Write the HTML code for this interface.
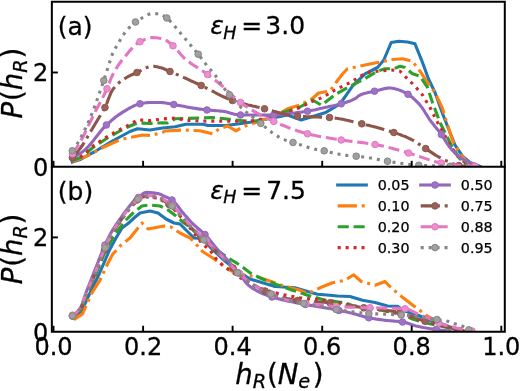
<!DOCTYPE html>
<html><head><meta charset="utf-8"><title>P(hR) vs hR(Ne)</title>
<style>html,body{margin:0;padding:0;background:#fff}body{width:520px;height:391px;overflow:hidden}</style></head>
<body>
<svg width="520" height="391" viewBox="0 0 520 391" style="display:block">
<defs><clipPath id="c1"><rect x="51.85" y="1.75" width="452.95" height="165.05"/></clipPath><clipPath id="c2"><rect x="51.85" y="166.8" width="452.95" height="164.95"/></clipPath></defs>
<rect width="520" height="391" fill="#fff"/>
<g clip-path="url(#c1)"><path d="M72.3 162.0 L80.8 159.2 L96.2 150.8 L111.5 141.5 L130.0 131.5 L137.5 128.8 L150.0 130.0 L162.5 128.0 L175.0 126.8 L186.0 124.2 L203.0 124.2 L208.0 125.5 L226.0 125.5 L241.5 123.5 L250.0 122.3 L275.0 117.5 L287.5 115.0 L301.2 120.0 L325.0 112.8 L340.0 104.0 L352.5 86.2 L365.0 73.8 L377.5 67.5 L383.8 60.0 L391.2 42.5 L398.8 41.2 L407.5 42.0 L415.0 43.8 L422.5 62.5 L428.5 79.0 L435.0 92.5 L442.5 113.5 L450.0 132.5 L455.0 145.0 L462.5 156.2 L470.0 162.5 L480.0 166.3" stroke="#1f77b4" stroke-width="3.1" fill="none" stroke-linejoin="round" stroke-linecap="square"/>
<path d="M72.5 161.5 L88.5 155.4 L103.8 147.0 L117.7 140.8 L125.4 138.5 L132.5 137.0 L142.5 135.0 L150.0 135.5 L162.5 132.5 L165.0 131.0 L182.5 130.0 L200.0 130.8 L212.5 133.8 L218.8 129.2 L227.5 126.0 L236.0 130.8 L242.5 127.0 L260.0 121.0 L275.0 116.0 L287.5 108.8 L300.0 105.0 L312.5 98.5 L318.5 93.0 L330.0 91.0 L336.0 82.5 L342.5 74.0 L347.5 68.8 L365.0 65.0 L377.5 62.5 L392.5 59.5 L402.5 58.8 L412.5 61.2 L420.0 71.2 L427.5 82.5 L435.0 92.5 L442.5 108.5 L447.5 125.0 L452.5 140.0 L460.0 153.8 L467.5 162.0 L480.0 166.3" stroke="#ff7f0e" stroke-width="3.1" fill="none" stroke-linejoin="round" stroke-dasharray="19.20 4.80 3.00 4.80"/>
<path d="M72.5 160.5 L80.8 157.5 L93.0 147.5 L107.0 138.2 L120.8 130.5 L130.0 126.0 L137.5 123.0 L150.0 123.5 L162.5 122.7 L167.5 123.0 L175.0 118.8 L212.5 117.5 L225.0 118.8 L245.0 121.0 L257.5 121.0 L275.0 115.0 L300.0 107.0 L312.5 100.0 L321.5 105.2 L335.4 94.4 L350.0 86.2 L362.5 80.0 L377.5 71.2 L385.0 68.8 L393.8 68.8 L400.0 66.2 L405.0 67.5 L412.5 73.8 L420.0 76.2 L427.5 87.5 L432.5 102.5 L440.0 122.5 L446.2 135.0 L452.5 147.5 L460.0 158.8 L467.5 165.6" stroke="#2ca02c" stroke-width="3.1" fill="none" stroke-linejoin="round" stroke-dasharray="11.10 4.80"/>
<path d="M72.5 160.0 L80.8 156.5 L93.0 146.0 L107.0 136.7 L120.8 129.0 L130.0 124.5 L137.5 119.8 L150.0 120.6 L162.5 119.0 L175.0 118.0 L185.0 120.3 L200.0 121.0 L225.0 121.3 L250.0 121.3 L257.5 120.0 L275.0 116.2 L300.0 107.5 L312.5 101.2 L322.5 97.5 L335.0 90.0 L350.0 82.5 L362.5 75.0 L370.0 72.0 L377.5 71.2 L392.5 70.0 L400.0 71.2 L407.5 78.8 L415.0 86.2 L422.5 95.0 L430.0 107.5 L436.2 120.0 L442.5 131.2 L450.0 145.0 L457.5 156.2 L465.0 162.5 L475.0 166.3" stroke="#d62728" stroke-width="3.1" fill="none" stroke-linejoin="round" stroke-dasharray="3.00 4.95"/>
<path d="M72.5 157.7 L74.0 157.0 L75.5 156.2 L77.0 155.4 L78.5 154.5 L80.0 153.5 L81.5 152.5 L83.0 151.4 L84.5 150.2 L86.0 148.9 L87.5 147.4 L89.0 145.8 L90.5 144.1 L92.0 142.2 L93.5 140.4 L95.0 138.4 L96.5 136.5 L98.0 134.6 L99.5 132.7 L101.0 130.8 L102.5 129.1 L104.0 127.4 L105.5 125.9 L107.0 124.5 L108.5 123.1 L110.0 121.8 L111.5 120.5 L113.0 119.2 L114.5 118.0 L116.0 116.8 L117.5 115.7 L119.0 114.6 L120.5 113.6 L122.0 112.6 L123.5 111.7 L125.0 110.8 L126.5 109.9 L128.0 109.0 L129.5 108.1 L131.0 107.3 L132.5 106.5 L134.0 105.8 L135.5 105.1 L137.0 104.6 L138.5 104.1 L140.0 103.8 L141.5 103.5 L143.0 103.2 L144.5 103.0 L146.0 102.8 L147.5 102.6 L149.0 102.5 L150.5 102.5 L152.0 102.5 L153.5 102.5 L155.0 102.5 L156.5 102.5 L158.0 102.5 L159.5 102.5 L161.0 102.5 L162.5 102.6 L164.0 102.8 L165.5 103.0 L167.0 103.2 L168.5 103.5 L170.0 103.8 L171.5 104.1 L173.0 104.4 L174.5 104.6 L176.0 104.9 L177.5 105.2 L179.0 105.4 L180.5 105.7 L182.0 106.0 L183.5 106.3 L185.0 106.6 L186.5 106.9 L188.0 107.2 L189.5 107.4 L191.0 107.7 L192.5 107.9 L194.0 108.2 L195.5 108.4 L197.0 108.6 L198.5 108.9 L200.0 109.1 L201.5 109.3 L203.0 109.5 L204.5 109.7 L206.0 109.9 L207.5 110.1 L209.0 110.2 L210.5 110.3 L212.0 110.4 L213.5 110.5 L215.0 110.6 L216.5 110.7 L218.0 110.8 L219.5 111.0 L221.0 111.1 L222.5 111.2 L224.0 111.5 L225.5 111.8 L227.0 112.1 L228.5 112.5 L230.0 113.0 L231.5 113.4 L233.0 113.8 L234.5 114.2 L236.0 114.5 L237.5 114.8 L239.0 114.9 L240.5 115.0 L242.0 115.0 L243.5 115.0 L245.0 115.0 L246.5 115.0 L248.0 115.0 L249.5 115.0 L251.0 115.0 L252.5 115.0 L254.0 115.0 L255.5 115.0 L257.0 115.0 L258.5 115.0 L260.0 115.0 L261.5 115.0 L263.0 115.0 L264.5 115.1 L266.0 115.1 L267.5 115.1 L269.0 115.1 L270.5 115.1 L272.0 115.1 L273.5 115.1 L275.0 115.1 L276.5 115.0 L278.0 114.9 L279.5 114.7 L281.0 114.6 L282.5 114.4 L284.0 114.2 L285.5 114.0 L287.0 113.8 L288.5 113.6 L290.0 113.5 L291.5 113.3 L293.0 113.1 L294.5 113.0 L296.0 112.8 L297.5 112.6 L299.0 112.4 L300.5 112.3 L302.0 112.1 L303.5 111.8 L305.0 111.6 L306.5 111.4 L308.0 111.2 L309.5 110.9 L311.0 110.6 L312.5 110.3 L314.0 110.0 L315.5 109.7 L317.0 109.3 L318.5 109.0 L320.0 108.6 L321.5 108.3 L323.0 108.0 L324.5 107.6 L326.0 107.3 L327.5 107.0 L329.0 106.6 L330.5 106.3 L332.0 106.0 L333.5 105.7 L335.0 105.3 L336.5 105.0 L338.0 104.6 L339.5 104.2 L341.0 103.8 L342.5 103.4 L344.0 103.0 L345.5 102.5 L347.0 102.0 L348.5 101.5 L350.0 101.0 L351.5 100.4 L353.0 99.7 L354.5 99.0 L356.0 98.1 L357.5 96.8 L359.0 95.6 L360.5 94.8 L362.0 94.2 L363.5 93.8 L365.0 93.3 L366.5 93.0 L368.0 92.6 L369.5 92.3 L371.0 92.0 L372.5 91.7 L374.0 91.4 L375.5 91.0 L377.0 90.6 L378.5 90.2 L380.0 89.8 L381.5 89.4 L383.0 89.0 L384.5 88.6 L386.0 88.4 L387.5 88.1 L389.0 88.0 L390.5 88.0 L392.0 88.2 L393.5 88.4 L395.0 88.8 L396.5 89.2 L398.0 89.6 L399.5 90.1 L401.0 90.7 L402.5 91.4 L404.0 92.1 L405.5 92.9 L407.0 93.7 L408.5 94.6 L410.0 95.6 L411.5 96.7 L413.0 98.0 L414.5 99.3 L416.0 100.8 L417.5 102.3 L419.0 103.9 L420.5 105.6 L422.0 107.6 L423.5 109.8 L425.0 112.2 L426.5 114.6 L428.0 117.0 L429.5 119.3 L431.0 121.4 L432.5 123.3 L434.0 125.2 L435.5 127.1 L437.0 128.9 L438.5 130.8 L440.0 132.7 L441.5 134.7 L443.0 137.0 L444.5 139.3 L446.0 141.7 L447.5 144.1 L449.0 146.2 L450.5 148.1 L452.0 149.9 L453.5 151.5 L455.0 153.1 L456.5 154.6 L458.0 155.9 L459.5 157.1 L461.0 158.2 L462.5 159.1 L464.0 159.9 L465.5 160.6 L467.0 161.4 L468.5 162.1 L470.0 163.0 L471.5 163.9 L473.0 164.9 L474.5 166.0 L475.0 166.3" stroke="#9467bd" stroke-width="3.1" fill="none" stroke-linejoin="round" stroke-linecap="square"/>
<circle cx="72.5" cy="157.7" r="3.3" fill="#9d74c4" stroke="#9467bd" stroke-width="1"/>
<circle cx="106.4" cy="125.0" r="3.3" fill="#9d74c4" stroke="#9467bd" stroke-width="1"/>
<circle cx="140.0" cy="103.8" r="3.3" fill="#9d74c4" stroke="#9467bd" stroke-width="1"/>
<circle cx="173.8" cy="104.5" r="3.3" fill="#9d74c4" stroke="#9467bd" stroke-width="1"/>
<circle cx="207.0" cy="110.0" r="3.3" fill="#9d74c4" stroke="#9467bd" stroke-width="1"/>
<circle cx="240.5" cy="115.0" r="3.3" fill="#9d74c4" stroke="#9467bd" stroke-width="1"/>
<circle cx="273.8" cy="115.1" r="3.3" fill="#9d74c4" stroke="#9467bd" stroke-width="1"/>
<circle cx="307.5" cy="111.2" r="3.3" fill="#9d74c4" stroke="#9467bd" stroke-width="1"/>
<circle cx="341.2" cy="103.8" r="3.3" fill="#9d74c4" stroke="#9467bd" stroke-width="1"/>
<circle cx="374.5" cy="91.2" r="3.3" fill="#9d74c4" stroke="#9467bd" stroke-width="1"/>
<circle cx="408.0" cy="94.3" r="3.3" fill="#9d74c4" stroke="#9467bd" stroke-width="1"/>
<circle cx="441.4" cy="134.6" r="3.3" fill="#9d74c4" stroke="#9467bd" stroke-width="1"/>
<circle cx="475.0" cy="166.3" r="3.3" fill="#9d74c4" stroke="#9467bd" stroke-width="1"/>
<path d="M72.5 157.7 L74.0 156.1 L75.5 154.4 L77.0 152.5 L78.5 150.6 L80.0 148.6 L81.5 146.5 L83.0 144.4 L84.5 142.0 L86.0 139.5 L87.5 136.9 L89.0 134.3 L90.5 131.7 L92.0 129.2 L93.5 126.7 L95.0 124.2 L96.5 121.7 L98.0 119.3 L99.5 116.8 L101.0 114.3 L102.5 111.8 L104.0 109.3 L105.5 106.5 L107.0 102.9 L108.5 98.9 L110.0 95.0 L111.5 91.7 L113.0 89.3 L114.5 87.4 L116.0 85.6 L117.5 84.1 L119.0 82.7 L120.5 81.5 L122.0 80.4 L123.5 79.3 L125.0 78.4 L126.5 77.5 L128.0 76.7 L129.5 75.9 L131.0 75.2 L132.5 74.5 L134.0 73.8 L135.5 73.2 L137.0 72.5 L138.5 71.8 L140.0 71.0 L141.5 70.2 L143.0 69.4 L144.5 68.6 L146.0 67.9 L147.5 67.3 L149.0 66.8 L150.5 66.4 L152.0 66.3 L153.5 66.3 L155.0 66.4 L156.5 66.7 L158.0 67.0 L159.5 67.4 L161.0 67.8 L162.5 68.3 L164.0 68.8 L165.5 69.5 L167.0 70.2 L168.5 70.8 L170.0 71.5 L171.5 72.1 L173.0 72.8 L174.5 73.4 L176.0 74.1 L177.5 74.7 L179.0 75.4 L180.5 76.0 L182.0 76.7 L183.5 77.4 L185.0 78.0 L186.5 78.7 L188.0 79.4 L189.5 80.1 L191.0 80.8 L192.5 81.5 L194.0 82.1 L195.5 82.8 L197.0 83.5 L198.5 84.2 L200.0 84.9 L201.5 85.6 L203.0 86.3 L204.5 87.1 L206.0 87.8 L207.5 88.6 L209.0 89.4 L210.5 90.1 L212.0 90.9 L213.5 91.7 L215.0 92.5 L216.5 93.3 L218.0 94.1 L219.5 94.8 L221.0 95.6 L222.5 96.3 L224.0 97.0 L225.5 97.7 L227.0 98.4 L228.5 99.0 L230.0 99.6 L231.5 100.2 L233.0 100.7 L234.5 101.2 L236.0 101.6 L237.5 102.1 L239.0 102.5 L240.5 102.9 L242.0 103.3 L243.5 103.7 L245.0 104.1 L246.5 104.5 L248.0 104.9 L249.5 105.2 L251.0 105.6 L252.5 106.0 L254.0 106.3 L255.5 106.6 L257.0 107.0 L258.5 107.3 L260.0 107.7 L261.5 108.0 L263.0 108.4 L264.5 108.8 L266.0 109.1 L267.5 109.5 L269.0 109.9 L270.5 110.3 L272.0 110.7 L273.5 111.2 L275.0 111.6 L276.5 112.0 L278.0 112.4 L279.5 112.8 L281.0 113.2 L282.5 113.6 L284.0 114.0 L285.5 114.3 L287.0 114.7 L288.5 115.0 L290.0 115.3 L291.5 115.5 L293.0 115.8 L294.5 116.0 L296.0 116.1 L297.5 116.2 L299.0 116.3 L300.5 116.4 L302.0 116.5 L303.5 116.6 L305.0 116.6 L306.5 116.7 L308.0 116.7 L309.5 116.8 L311.0 116.8 L312.5 116.9 L314.0 116.9 L315.5 116.9 L317.0 117.0 L318.5 117.0 L320.0 117.1 L321.5 117.1 L323.0 117.2 L324.5 117.2 L326.0 117.3 L327.5 117.4 L329.0 117.5 L330.5 117.6 L332.0 117.7 L333.5 117.9 L335.0 118.1 L336.5 118.3 L338.0 118.5 L339.5 118.8 L341.0 119.0 L342.5 119.3 L344.0 119.6 L345.5 119.9 L347.0 120.3 L348.5 120.6 L350.0 121.0 L351.5 121.3 L353.0 121.7 L354.5 122.0 L356.0 122.4 L357.5 122.8 L359.0 123.1 L360.5 123.5 L362.0 123.8 L363.5 124.2 L365.0 124.5 L366.5 124.9 L368.0 125.2 L369.5 125.6 L371.0 126.0 L372.5 126.3 L374.0 126.7 L375.5 127.1 L377.0 127.5 L378.5 127.9 L380.0 128.3 L381.5 128.8 L383.0 129.2 L384.5 129.6 L386.0 130.1 L387.5 130.5 L389.0 131.0 L390.5 131.5 L392.0 131.9 L393.5 132.4 L395.0 132.9 L396.5 133.4 L398.0 133.9 L399.5 134.4 L401.0 135.0 L402.5 135.6 L404.0 136.1 L405.5 136.7 L407.0 137.4 L408.5 138.1 L410.0 138.8 L411.5 139.5 L413.0 140.3 L414.5 141.2 L416.0 142.2 L417.5 143.1 L419.0 144.1 L420.5 145.1 L422.0 146.2 L423.5 147.2 L425.0 148.1 L426.5 149.1 L428.0 150.1 L429.5 151.1 L431.0 152.1 L432.5 153.1 L434.0 154.1 L435.5 155.1 L437.0 156.0 L438.5 156.8 L440.0 157.6 L441.5 158.4 L443.0 159.2 L444.5 159.9 L446.0 160.6 L447.5 161.2 L449.0 161.9 L450.5 162.6 L452.0 163.4 L453.5 164.0 L455.0 164.6 L456.5 165.1 L458.0 165.5 L459.5 165.7 L461.0 165.9 L462.5 166.0 L464.0 166.1 L465.5 166.3 L467.0 166.4 L468.5 166.4 L470.0 166.5 L471.5 166.5 L472.0 166.5" stroke="#8c564b" stroke-width="3.1" fill="none" stroke-linejoin="round" stroke-dasharray="19.20 4.80 3.00 4.80"/>
<circle cx="72.5" cy="157.7" r="3.3" fill="#9a6256" stroke="#8c564b" stroke-width="1"/>
<circle cx="105.0" cy="107.5" r="3.3" fill="#9a6256" stroke="#8c564b" stroke-width="1"/>
<circle cx="137.0" cy="72.5" r="3.3" fill="#9a6256" stroke="#8c564b" stroke-width="1"/>
<circle cx="170.0" cy="71.5" r="3.3" fill="#9a6256" stroke="#8c564b" stroke-width="1"/>
<circle cx="201.2" cy="85.5" r="3.3" fill="#9a6256" stroke="#8c564b" stroke-width="1"/>
<circle cx="232.5" cy="100.5" r="3.3" fill="#9a6256" stroke="#8c564b" stroke-width="1"/>
<circle cx="264.5" cy="108.8" r="3.3" fill="#9a6256" stroke="#8c564b" stroke-width="1"/>
<circle cx="297.5" cy="116.2" r="3.3" fill="#9a6256" stroke="#8c564b" stroke-width="1"/>
<circle cx="329.5" cy="117.5" r="3.3" fill="#9a6256" stroke="#8c564b" stroke-width="1"/>
<circle cx="361.8" cy="123.8" r="3.3" fill="#9a6256" stroke="#8c564b" stroke-width="1"/>
<circle cx="393.8" cy="132.5" r="3.3" fill="#9a6256" stroke="#8c564b" stroke-width="1"/>
<circle cx="425.7" cy="148.6" r="3.3" fill="#9a6256" stroke="#8c564b" stroke-width="1"/>
<circle cx="458.8" cy="165.6" r="3.3" fill="#9a6256" stroke="#8c564b" stroke-width="1"/>
<path d="M72.5 153.8 L74.0 151.7 L75.5 149.5 L77.0 147.2 L78.5 144.7 L80.0 142.2 L81.5 139.5 L83.0 136.7 L84.5 133.7 L86.0 130.6 L87.5 127.4 L89.0 124.4 L90.5 121.3 L92.0 118.3 L93.5 115.2 L95.0 112.2 L96.5 109.3 L98.0 106.5 L99.5 103.7 L101.0 100.9 L102.5 98.0 L104.0 95.1 L105.5 92.0 L107.0 88.8 L108.5 85.0 L110.0 81.0 L111.5 77.2 L113.0 74.1 L114.5 71.3 L116.0 68.8 L117.5 66.5 L119.0 64.2 L120.5 62.2 L122.0 60.2 L123.5 58.3 L125.0 56.5 L126.5 54.7 L128.0 52.9 L129.5 51.1 L131.0 49.4 L132.5 47.8 L134.0 46.2 L135.5 44.8 L137.0 43.6 L138.5 42.5 L140.0 41.7 L141.5 41.0 L143.0 40.3 L144.5 39.6 L146.0 39.0 L147.5 38.5 L149.0 38.0 L150.5 37.8 L152.0 37.6 L153.5 37.6 L155.0 37.7 L156.5 37.8 L158.0 38.0 L159.5 38.2 L161.0 38.5 L162.5 38.8 L164.0 39.2 L165.5 39.9 L167.0 40.9 L168.5 42.0 L170.0 43.2 L171.5 44.5 L173.0 45.8 L174.5 47.1 L176.0 48.7 L177.5 50.4 L179.0 52.2 L180.5 54.0 L182.0 55.7 L183.5 57.3 L185.0 58.8 L186.5 60.0 L188.0 61.2 L189.5 62.3 L191.0 63.4 L192.5 64.5 L194.0 65.5 L195.5 66.4 L197.0 67.4 L198.5 68.4 L200.0 69.3 L201.5 70.3 L203.0 71.3 L204.5 72.3 L206.0 73.3 L207.5 74.4 L209.0 75.5 L210.5 76.7 L212.0 77.8 L213.5 79.0 L215.0 80.1 L216.5 81.3 L218.0 82.5 L219.5 83.8 L221.0 85.0 L222.5 86.2 L224.0 87.5 L225.5 88.9 L227.0 90.3 L228.5 91.8 L230.0 93.2 L231.5 94.7 L233.0 96.1 L234.5 97.5 L236.0 98.9 L237.5 100.2 L239.0 101.4 L240.5 102.5 L242.0 103.6 L243.5 104.6 L245.0 105.6 L246.5 106.6 L248.0 107.6 L249.5 108.5 L251.0 109.5 L252.5 110.4 L254.0 111.3 L255.5 112.1 L257.0 113.0 L258.5 113.8 L260.0 114.7 L261.5 115.5 L263.0 116.2 L264.5 117.0 L266.0 117.8 L267.5 118.5 L269.0 119.2 L270.5 119.9 L272.0 120.6 L273.5 121.3 L275.0 122.0 L276.5 122.6 L278.0 123.3 L279.5 123.9 L281.0 124.6 L282.5 125.2 L284.0 125.8 L285.5 126.4 L287.0 127.0 L288.5 127.6 L290.0 128.2 L291.5 128.7 L293.0 129.3 L294.5 129.8 L296.0 130.3 L297.5 130.9 L299.0 131.3 L300.5 131.8 L302.0 132.3 L303.5 132.7 L305.0 133.1 L306.5 133.5 L308.0 133.9 L309.5 134.2 L311.0 134.6 L312.5 134.9 L314.0 135.2 L315.5 135.6 L317.0 135.9 L318.5 136.2 L320.0 136.5 L321.5 136.7 L323.0 137.0 L324.5 137.3 L326.0 137.5 L327.5 137.8 L329.0 138.1 L330.5 138.3 L332.0 138.5 L333.5 138.8 L335.0 139.0 L336.5 139.3 L338.0 139.5 L339.5 139.7 L341.0 140.0 L342.5 140.2 L344.0 140.4 L345.5 140.6 L347.0 140.8 L348.5 141.0 L350.0 141.2 L351.5 141.4 L353.0 141.6 L354.5 141.7 L356.0 141.9 L357.5 142.1 L359.0 142.3 L360.5 142.4 L362.0 142.6 L363.5 142.8 L365.0 143.0 L366.5 143.2 L368.0 143.4 L369.5 143.6 L371.0 143.8 L372.5 144.1 L374.0 144.3 L375.5 144.6 L377.0 144.9 L378.5 145.2 L380.0 145.5 L381.5 145.8 L383.0 146.1 L384.5 146.5 L386.0 146.8 L387.5 147.2 L389.0 147.6 L390.5 147.9 L392.0 148.3 L393.5 148.7 L395.0 149.2 L396.5 149.6 L398.0 150.0 L399.5 150.4 L401.0 150.8 L402.5 151.3 L404.0 151.7 L405.5 152.1 L407.0 152.6 L408.5 153.0 L410.0 153.4 L411.5 153.9 L413.0 154.4 L414.5 154.9 L416.0 155.4 L417.5 155.9 L419.0 156.4 L420.5 156.9 L422.0 157.4 L423.5 157.9 L425.0 158.4 L426.5 158.9 L428.0 159.4 L429.5 159.9 L431.0 160.3 L432.5 160.8 L434.0 161.2 L435.5 161.7 L437.0 162.1 L438.5 162.5 L440.0 162.8 L441.5 163.0 L443.0 163.3 L444.5 163.5 L446.0 163.7 L447.5 163.9 L449.0 164.2 L450.5 164.4 L452.0 164.6 L453.5 164.8 L455.0 164.9 L456.5 165.1 L458.0 165.3 L459.5 165.4 L461.0 165.6 L462.5 165.7 L464.0 165.9 L465.5 166.0 L467.0 166.1 L468.5 166.1 L470.0 166.2 L471.5 166.3 L473.0 166.3 L474.5 166.3 L475.0 166.3" stroke="#e377c2" stroke-width="3.1" fill="none" stroke-linejoin="round" stroke-dasharray="11.10 4.80"/>
<circle cx="72.5" cy="153.8" r="3.3" fill="#ea8fcf" stroke="#e377c2" stroke-width="1"/>
<circle cx="107.0" cy="88.8" r="3.3" fill="#ea8fcf" stroke="#e377c2" stroke-width="1"/>
<circle cx="140.0" cy="41.7" r="3.3" fill="#ea8fcf" stroke="#e377c2" stroke-width="1"/>
<circle cx="173.0" cy="45.8" r="3.3" fill="#ea8fcf" stroke="#e377c2" stroke-width="1"/>
<circle cx="207.5" cy="74.4" r="3.3" fill="#ea8fcf" stroke="#e377c2" stroke-width="1"/>
<circle cx="240.5" cy="102.5" r="3.3" fill="#ea8fcf" stroke="#e377c2" stroke-width="1"/>
<circle cx="273.8" cy="121.4" r="3.3" fill="#ea8fcf" stroke="#e377c2" stroke-width="1"/>
<circle cx="307.5" cy="133.8" r="3.3" fill="#ea8fcf" stroke="#e377c2" stroke-width="1"/>
<circle cx="341.2" cy="140.0" r="3.3" fill="#ea8fcf" stroke="#e377c2" stroke-width="1"/>
<circle cx="375.0" cy="144.5" r="3.3" fill="#ea8fcf" stroke="#e377c2" stroke-width="1"/>
<circle cx="408.5" cy="153.0" r="3.3" fill="#ea8fcf" stroke="#e377c2" stroke-width="1"/>
<circle cx="441.2" cy="163.0" r="3.3" fill="#ea8fcf" stroke="#e377c2" stroke-width="1"/>
<circle cx="475.0" cy="166.3" r="3.3" fill="#ea8fcf" stroke="#e377c2" stroke-width="1"/>
<path d="M72.3 150.8 L73.8 148.8 L75.3 146.7 L76.8 144.4 L78.3 142.0 L79.8 139.4 L81.3 136.7 L82.8 133.8 L84.3 130.8 L85.8 127.7 L87.3 124.4 L88.8 121.1 L90.3 117.5 L91.8 113.9 L93.3 110.0 L94.8 106.1 L96.3 102.0 L97.8 97.8 L99.3 93.5 L100.8 89.1 L102.3 84.8 L103.8 80.4 L105.3 75.8 L106.8 71.2 L108.3 66.6 L109.8 61.7 L111.3 56.9 L112.8 53.1 L114.3 50.0 L115.8 47.4 L117.3 44.9 L118.8 42.4 L120.3 39.8 L121.8 37.3 L123.3 34.9 L124.8 32.8 L126.3 30.9 L127.8 29.2 L129.3 27.6 L130.8 26.0 L132.3 24.6 L133.8 23.3 L135.3 22.2 L136.8 21.1 L138.3 20.1 L139.8 19.1 L141.3 18.3 L142.8 17.5 L144.3 16.7 L145.8 15.9 L147.3 15.0 L148.8 14.3 L150.3 13.8 L151.8 13.8 L153.3 13.8 L154.8 13.8 L156.3 13.8 L157.8 13.8 L159.3 13.8 L160.8 14.2 L162.3 14.9 L163.8 15.9 L165.3 17.0 L166.8 18.0 L168.3 19.2 L169.8 20.7 L171.3 22.3 L172.8 24.0 L174.3 25.6 L175.8 27.4 L177.3 29.2 L178.8 31.0 L180.3 32.9 L181.8 34.7 L183.3 36.5 L184.8 38.3 L186.3 40.1 L187.8 41.8 L189.3 43.6 L190.8 45.4 L192.3 47.1 L193.8 48.9 L195.3 50.7 L196.8 52.5 L198.3 54.3 L199.8 56.2 L201.3 58.2 L202.8 60.2 L204.3 62.2 L205.8 64.1 L207.3 66.0 L208.8 67.8 L210.3 69.5 L211.8 71.2 L213.3 72.9 L214.8 74.7 L216.3 76.8 L217.8 79.0 L219.3 81.3 L220.8 83.6 L222.3 85.7 L223.8 87.7 L225.3 89.7 L226.8 91.5 L228.3 93.3 L229.8 95.1 L231.3 96.8 L232.8 98.6 L234.3 100.3 L235.8 101.9 L237.3 103.5 L238.8 105.1 L240.3 106.6 L241.8 108.1 L243.3 109.5 L244.8 110.8 L246.3 112.1 L247.8 113.3 L249.3 114.5 L250.8 115.7 L252.3 116.8 L253.8 118.0 L255.3 119.1 L256.8 120.3 L258.3 121.4 L259.8 122.6 L261.3 123.9 L262.8 125.1 L264.3 126.4 L265.8 127.6 L267.3 128.8 L268.8 130.0 L270.3 131.2 L271.8 132.4 L273.3 133.5 L274.8 134.6 L276.3 135.5 L277.8 136.4 L279.3 137.3 L280.8 138.1 L282.3 138.9 L283.8 139.5 L285.3 140.1 L286.8 140.6 L288.3 141.1 L289.8 141.5 L291.3 142.0 L292.8 142.4 L294.3 142.9 L295.8 143.4 L297.3 143.8 L298.8 144.3 L300.3 144.8 L301.8 145.2 L303.3 145.7 L304.8 146.2 L306.3 146.7 L307.8 147.2 L309.3 147.8 L310.8 148.3 L312.3 148.7 L313.8 149.0 L315.3 149.3 L316.8 149.6 L318.3 149.8 L319.8 150.0 L321.3 150.2 L322.8 150.5 L324.3 150.8 L325.8 151.1 L327.3 151.5 L328.8 151.9 L330.3 152.3 L331.8 152.7 L333.3 153.1 L334.8 153.4 L336.3 153.8 L337.8 154.0 L339.3 154.3 L340.8 154.6 L342.3 154.8 L343.8 155.0 L345.3 155.2 L346.8 155.4 L348.3 155.5 L349.8 155.6 L351.3 155.8 L352.8 155.9 L354.3 156.1 L355.8 156.2 L357.3 156.4 L358.8 156.5 L360.3 156.7 L361.8 156.8 L363.3 157.0 L364.8 157.2 L366.3 157.3 L367.8 157.5 L369.3 157.8 L370.8 158.0 L372.3 158.3 L373.8 158.5 L375.3 158.8 L376.8 159.1 L378.3 159.4 L379.8 159.7 L381.3 160.0 L382.8 160.4 L384.3 160.7 L385.8 161.0 L387.3 161.2 L388.8 161.5 L390.3 161.7 L391.8 161.9 L393.3 162.2 L394.8 162.4 L396.3 162.6 L397.8 162.9 L399.3 163.1 L400.8 163.3 L402.3 163.5 L403.8 163.7 L405.3 163.9 L406.8 164.1 L408.3 164.3 L409.8 164.5 L411.3 164.6 L412.8 164.8 L414.3 164.9 L415.8 165.0 L417.3 165.1 L418.8 165.2 L420.3 165.3 L421.8 165.4 L423.3 165.4 L424.8 165.5 L426.3 165.6 L427.8 165.7 L429.3 165.7 L430.8 165.8 L432.3 165.9 L433.8 165.9 L435.3 166.0 L436.8 166.1 L438.3 166.1 L439.8 166.1 L441.3 166.2 L442.8 166.2 L444.3 166.3 L445.8 166.3 L447.3 166.3 L448.8 166.3 L450.0 166.3" stroke="#858585" stroke-width="3.1" fill="none" stroke-linejoin="round" stroke-dasharray="3.00 4.95"/>
<circle cx="72.3" cy="150.8" r="3.3" fill="#a0a0a0" stroke="#858585" stroke-width="1"/>
<circle cx="103.8" cy="80.5" r="3.3" fill="#a0a0a0" stroke="#858585" stroke-width="1"/>
<circle cx="135.5" cy="22.0" r="3.3" fill="#a0a0a0" stroke="#858585" stroke-width="1"/>
<circle cx="166.8" cy="18.0" r="3.3" fill="#a0a0a0" stroke="#858585" stroke-width="1"/>
<circle cx="198.2" cy="54.2" r="3.3" fill="#a0a0a0" stroke="#858585" stroke-width="1"/>
<circle cx="229.5" cy="94.8" r="3.3" fill="#a0a0a0" stroke="#858585" stroke-width="1"/>
<circle cx="260.8" cy="123.4" r="3.3" fill="#a0a0a0" stroke="#858585" stroke-width="1"/>
<circle cx="293.0" cy="142.5" r="3.3" fill="#a0a0a0" stroke="#858585" stroke-width="1"/>
<circle cx="324.2" cy="150.8" r="3.3" fill="#a0a0a0" stroke="#858585" stroke-width="1"/>
<circle cx="356.2" cy="156.2" r="3.3" fill="#a0a0a0" stroke="#858585" stroke-width="1"/>
<circle cx="387.5" cy="161.2" r="3.3" fill="#a0a0a0" stroke="#858585" stroke-width="1"/>
<circle cx="418.8" cy="165.2" r="3.3" fill="#a0a0a0" stroke="#858585" stroke-width="1"/>
<circle cx="450.0" cy="166.3" r="3.3" fill="#a0a0a0" stroke="#858585" stroke-width="1"/></g>
<g clip-path="url(#c2)"><path d="M72.5 316.6 L81.3 311.5 L88.3 296.5 L99.2 274.0 L109.5 250.0 L116.0 238.0 L122.0 228.0 L128.0 223.6 L134.0 218.0 L140.0 213.0 L150.0 211.0 L158.0 213.0 L166.0 219.0 L174.0 223.0 L180.0 224.0 L186.0 230.0 L194.0 238.0 L202.0 238.5 L212.0 249.0 L225.0 261.0 L237.5 271.0 L250.0 279.0 L262.5 282.8 L275.0 286.5 L295.0 287.8 L307.5 291.5 L317.5 294.3 L330.0 295.3 L337.5 296.0 L350.0 296.5 L362.5 300.2 L375.0 302.5 L387.5 306.0 L397.5 306.2 L405.0 311.2 L415.0 314.0 L430.0 320.2 L445.0 325.0 L460.0 331.2" stroke="#1f77b4" stroke-width="3.1" fill="none" stroke-linejoin="round" stroke-linecap="square"/>
<path d="M73.8 319.6 L82.5 314.0 L91.3 294.0 L100.0 280.2 L107.5 264.0 L112.5 254.5 L120.0 246.0 L130.0 238.0 L138.0 228.0 L142.0 223.0 L148.0 229.0 L164.0 226.0 L171.0 227.0 L180.0 233.0 L190.0 238.0 L196.0 244.0 L202.5 251.5 L212.5 257.8 L221.2 264.0 L230.0 270.2 L237.5 274.0 L257.5 277.0 L275.0 282.8 L285.0 286.5 L300.0 290.2 L307.5 293.5 L320.0 287.8 L332.5 282.8 L345.0 280.2 L353.8 274.8 L361.2 281.5 L375.0 285.2 L385.0 281.5 L391.2 287.8 L396.2 292.0 L401.2 296.2 L412.5 305.0 L420.0 310.5 L427.5 316.2 L440.0 323.0 L455.0 330.5" stroke="#ff7f0e" stroke-width="3.1" fill="none" stroke-linejoin="round" stroke-dasharray="19.20 4.80 3.00 4.80"/>
<path d="M72.5 316.1 L80.8 310.0 L86.8 294.5 L96.0 274.0 L105.7 250.0 L118.0 230.0 L126.0 220.0 L134.0 212.0 L142.0 206.0 L150.0 205.0 L160.0 206.0 L168.0 210.0 L176.0 216.0 L184.0 223.0 L190.0 227.0 L203.0 239.5 L215.0 249.0 L230.0 259.0 L240.0 265.2 L250.0 272.8 L262.5 279.0 L275.0 284.0 L292.5 290.2 L307.5 295.2 L325.0 300.2 L345.0 302.8 L355.0 306.5 L375.0 309.0 L387.5 311.5 L400.0 313.5 L412.5 319.0 L425.0 322.8 L445.0 327.0 L460.0 331.2" stroke="#2ca02c" stroke-width="3.1" fill="none" stroke-linejoin="round" stroke-dasharray="11.10 4.80"/>
<path d="M72.5 315.8 L80.3 309.0 L86.8 294.0 L95.5 274.0 L104.5 250.0 L112.5 233.0 L120.5 221.0 L128.5 210.0 L138.0 200.0 L146.0 197.0 L158.0 198.0 L166.0 203.0 L172.0 207.0 L180.0 216.0 L190.0 228.0 L202.5 244.0 L210.0 250.2 L216.2 259.0 L222.5 265.2 L237.5 276.0 L255.0 287.0 L280.0 294.0 L300.0 297.8 L317.5 299.5 L335.0 301.5 L350.0 305.2 L362.5 307.0 L382.5 310.2 L400.0 314.0 L412.5 317.8 L425.0 321.5 L445.0 326.5 L465.0 331.2" stroke="#d62728" stroke-width="3.1" fill="none" stroke-linejoin="round" stroke-dasharray="3.00 4.95"/>
<path d="M72.5 315.8 L74.0 315.3 L75.5 314.2 L77.0 312.6 L78.5 310.7 L80.0 308.6 L81.5 305.7 L83.0 301.7 L84.5 297.2 L86.0 292.8 L87.5 288.9 L89.0 285.0 L90.5 281.2 L92.0 277.4 L93.5 273.6 L95.0 269.8 L96.5 266.0 L98.0 262.2 L99.5 258.4 L101.0 254.6 L102.5 250.9 L104.0 247.3 L105.5 243.9 L107.0 240.7 L108.5 237.6 L110.0 234.6 L111.5 231.9 L113.0 229.3 L114.5 227.0 L116.0 224.7 L117.5 222.6 L119.0 220.4 L120.5 218.3 L122.0 216.1 L123.5 214.0 L125.0 211.9 L126.5 209.9 L128.0 208.0 L129.5 206.1 L131.0 204.2 L132.5 202.4 L134.0 200.8 L135.5 199.4 L137.0 198.4 L138.5 197.5 L140.0 196.4 L141.5 195.0 L143.0 193.7 L144.5 192.8 L146.0 192.4 L147.5 192.4 L149.0 192.5 L150.5 192.6 L152.0 192.7 L153.5 192.9 L155.0 193.1 L156.5 193.4 L158.0 193.6 L159.5 194.0 L161.0 194.5 L162.5 195.3 L164.0 196.0 L165.5 196.8 L167.0 197.4 L168.5 198.1 L170.0 198.8 L171.5 199.7 L173.0 200.8 L174.5 202.2 L176.0 203.9 L177.5 205.8 L179.0 207.8 L180.5 209.8 L182.0 211.7 L183.5 213.4 L185.0 215.2 L186.5 216.9 L188.0 218.6 L189.5 220.3 L191.0 222.0 L192.5 223.5 L194.0 224.9 L195.5 226.3 L197.0 227.5 L198.5 228.8 L200.0 230.0 L201.5 231.3 L203.0 232.6 L204.5 234.0 L206.0 235.6 L207.5 237.2 L209.0 239.0 L210.5 240.9 L212.0 242.8 L213.5 244.7 L215.0 246.6 L216.5 248.4 L218.0 250.0 L219.5 251.6 L221.0 253.1 L222.5 254.6 L224.0 256.2 L225.5 257.8 L227.0 259.5 L228.5 261.2 L230.0 262.9 L231.5 264.7 L233.0 266.5 L234.5 268.3 L236.0 270.0 L237.5 271.8 L239.0 273.6 L240.5 275.5 L242.0 277.4 L243.5 279.4 L245.0 281.4 L246.5 283.2 L248.0 284.8 L249.5 286.1 L251.0 287.2 L252.5 288.2 L254.0 289.1 L255.5 290.0 L257.0 290.8 L258.5 291.6 L260.0 292.4 L261.5 293.1 L263.0 293.7 L264.5 294.3 L266.0 294.9 L267.5 295.5 L269.0 296.0 L270.5 296.5 L272.0 297.0 L273.5 297.5 L275.0 297.9 L276.5 298.3 L278.0 298.7 L279.5 299.1 L281.0 299.5 L282.5 299.9 L284.0 300.2 L285.5 300.6 L287.0 300.9 L288.5 301.2 L290.0 301.5 L291.5 301.8 L293.0 302.1 L294.5 302.4 L296.0 302.7 L297.5 303.0 L299.0 303.3 L300.5 303.6 L302.0 303.9 L303.5 304.1 L305.0 304.4 L306.5 304.7 L308.0 304.9 L309.5 305.2 L311.0 305.4 L312.5 305.7 L314.0 305.9 L315.5 306.2 L317.0 306.4 L318.5 306.6 L320.0 306.9 L321.5 307.1 L323.0 307.4 L324.5 307.7 L326.0 307.9 L327.5 308.2 L329.0 308.5 L330.5 308.8 L332.0 309.1 L333.5 309.4 L335.0 309.7 L336.5 310.0 L338.0 310.3 L339.5 310.6 L341.0 310.9 L342.5 311.2 L344.0 311.5 L345.5 311.8 L347.0 312.1 L348.5 312.4 L350.0 312.8 L351.5 313.1 L353.0 313.5 L354.5 313.9 L356.0 314.3 L357.5 314.8 L359.0 315.2 L360.5 315.7 L362.0 316.1 L363.5 316.5 L365.0 316.9 L366.5 317.3 L368.0 317.6 L369.5 317.9 L371.0 318.2 L372.5 318.4 L374.0 318.7 L375.5 318.9 L377.0 319.2 L378.5 319.4 L380.0 319.6 L381.5 319.8 L383.0 320.0 L384.5 320.2 L386.0 320.4 L387.5 320.5 L389.0 320.7 L390.5 320.8 L392.0 320.9 L393.5 321.0 L395.0 321.2 L396.5 321.3 L398.0 321.4 L399.5 321.6 L401.0 321.8 L402.5 322.0 L404.0 322.3 L405.5 322.6 L407.0 323.0 L408.5 323.5 L410.0 324.0 L411.5 324.5 L413.0 325.0 L414.5 325.5 L416.0 325.9 L417.5 326.2 L419.0 326.6 L420.5 326.9 L422.0 327.2 L423.5 327.5 L425.0 327.7 L426.5 328.0 L428.0 328.2 L429.5 328.5 L431.0 328.7 L432.5 328.9 L434.0 329.2 L435.5 329.4 L437.0 329.6 L438.5 329.8 L440.0 330.0 L441.5 330.2 L443.0 330.4 L444.5 330.6 L446.0 330.8 L447.5 330.9 L449.0 331.1 L450.0 331.2" stroke="#9467bd" stroke-width="3.1" fill="none" stroke-linejoin="round" stroke-linecap="square"/>
<circle cx="72.5" cy="315.8" r="3.3" fill="#9d74c4" stroke="#9467bd" stroke-width="1"/>
<circle cx="105.0" cy="245.0" r="3.3" fill="#9d74c4" stroke="#9467bd" stroke-width="1"/>
<circle cx="138.5" cy="197.5" r="3.3" fill="#9d74c4" stroke="#9467bd" stroke-width="1"/>
<circle cx="172.0" cy="200.0" r="3.3" fill="#9d74c4" stroke="#9467bd" stroke-width="1"/>
<circle cx="205.0" cy="234.5" r="3.3" fill="#9d74c4" stroke="#9467bd" stroke-width="1"/>
<circle cx="238.5" cy="273.0" r="3.3" fill="#9d74c4" stroke="#9467bd" stroke-width="1"/>
<circle cx="272.0" cy="297.0" r="3.3" fill="#9d74c4" stroke="#9467bd" stroke-width="1"/>
<circle cx="305.5" cy="304.5" r="3.3" fill="#9d74c4" stroke="#9467bd" stroke-width="1"/>
<circle cx="339.0" cy="310.5" r="3.3" fill="#9d74c4" stroke="#9467bd" stroke-width="1"/>
<circle cx="368.8" cy="317.8" r="3.3" fill="#9d74c4" stroke="#9467bd" stroke-width="1"/>
<circle cx="402.5" cy="322.0" r="3.3" fill="#9d74c4" stroke="#9467bd" stroke-width="1"/>
<circle cx="436.2" cy="329.5" r="3.3" fill="#9d74c4" stroke="#9467bd" stroke-width="1"/>
<path d="M72.5 316.1 L74.0 315.7 L75.5 314.7 L77.0 313.2 L78.5 311.5 L80.0 309.6 L81.5 306.9 L83.0 303.3 L84.5 299.2 L86.0 295.2 L87.5 291.7 L89.0 288.3 L90.5 284.9 L92.0 281.5 L93.5 278.1 L95.0 274.5 L96.5 270.7 L98.0 266.8 L99.5 262.8 L101.0 258.9 L102.5 254.9 L104.0 251.2 L105.5 247.6 L107.0 244.1 L108.5 240.6 L110.0 237.4 L111.5 234.4 L113.0 231.8 L114.5 229.4 L116.0 227.1 L117.5 225.0 L119.0 222.9 L120.5 220.8 L122.0 218.6 L123.5 216.5 L125.0 214.5 L126.5 212.4 L128.0 210.5 L129.5 208.5 L131.0 206.5 L132.5 204.5 L134.0 202.7 L135.5 201.1 L137.0 200.0 L138.5 199.1 L140.0 198.3 L141.5 197.6 L143.0 197.0 L144.5 196.6 L146.0 196.5 L147.5 196.5 L149.0 196.6 L150.5 196.8 L152.0 196.9 L153.5 197.2 L155.0 197.4 L156.5 197.7 L158.0 198.0 L159.5 198.4 L161.0 199.1 L162.5 199.9 L164.0 200.8 L165.5 201.9 L167.0 203.0 L168.5 204.1 L170.0 205.3 L171.5 206.6 L173.0 208.0 L174.5 209.6 L176.0 211.2 L177.5 212.8 L179.0 214.4 L180.5 216.0 L182.0 217.7 L183.5 219.3 L185.0 221.0 L186.5 222.7 L188.0 224.3 L189.5 226.0 L191.0 227.5 L192.5 229.1 L194.0 230.6 L195.5 232.1 L197.0 233.6 L198.5 235.1 L200.0 236.5 L201.5 238.0 L203.0 239.4 L204.5 240.8 L206.0 242.2 L207.5 243.6 L209.0 245.0 L210.5 246.4 L212.0 247.7 L213.5 249.1 L215.0 250.5 L216.5 251.8 L218.0 253.2 L219.5 254.6 L221.0 256.1 L222.5 257.5 L224.0 259.0 L225.5 260.5 L227.0 262.1 L228.5 263.6 L230.0 265.1 L231.5 266.6 L233.0 268.0 L234.5 269.3 L236.0 270.7 L237.5 272.0 L239.0 273.3 L240.5 274.6 L242.0 275.8 L243.5 277.1 L245.0 278.3 L246.5 279.5 L248.0 280.6 L249.5 281.7 L251.0 282.8 L252.5 283.9 L254.0 284.9 L255.5 285.8 L257.0 286.7 L258.5 287.6 L260.0 288.5 L261.5 289.3 L263.0 290.1 L264.5 290.8 L266.0 291.4 L267.5 292.0 L269.0 292.6 L270.5 293.2 L272.0 293.8 L273.5 294.3 L275.0 294.9 L276.5 295.4 L278.0 295.8 L279.5 296.3 L281.0 296.8 L282.5 297.2 L284.0 297.6 L285.5 298.0 L287.0 298.4 L288.5 298.7 L290.0 299.1 L291.5 299.4 L293.0 299.8 L294.5 300.1 L296.0 300.3 L297.5 300.5 L299.0 300.7 L300.5 300.8 L302.0 300.9 L303.5 301.1 L305.0 301.2 L306.5 301.3 L308.0 301.4 L309.5 301.5 L311.0 301.6 L312.5 301.6 L314.0 301.7 L315.5 301.8 L317.0 301.9 L318.5 301.9 L320.0 302.0 L321.5 302.1 L323.0 302.2 L324.5 302.3 L326.0 302.4 L327.5 302.5 L329.0 302.7 L330.5 302.8 L332.0 303.0 L333.5 303.1 L335.0 303.3 L336.5 303.5 L338.0 303.7 L339.5 303.9 L341.0 304.1 L342.5 304.4 L344.0 304.6 L345.5 304.8 L347.0 305.1 L348.5 305.3 L350.0 305.6 L351.5 305.8 L353.0 306.1 L354.5 306.3 L356.0 306.6 L357.5 306.8 L359.0 307.0 L360.5 307.3 L362.0 307.5 L363.5 307.7 L365.0 307.9 L366.5 308.1 L368.0 308.3 L369.5 308.5 L371.0 308.7 L372.5 308.8 L374.0 309.0 L375.5 309.2 L377.0 309.3 L378.5 309.5 L380.0 309.7 L381.5 309.8 L383.0 310.0 L384.5 310.2 L386.0 310.3 L387.5 310.5 L389.0 310.7 L390.5 310.9 L392.0 311.1 L393.5 311.4 L395.0 311.6 L396.5 311.9 L398.0 312.1 L399.5 312.4 L401.0 312.7 L402.5 313.1 L404.0 313.5 L405.5 314.0 L407.0 314.5 L408.5 315.0 L410.0 315.6 L411.5 316.2 L413.0 316.8 L414.5 317.4 L416.0 318.0 L417.5 318.6 L419.0 319.2 L420.5 319.8 L422.0 320.3 L423.5 320.8 L425.0 321.2 L426.5 321.7 L428.0 322.1 L429.5 322.4 L431.0 322.8 L432.5 323.2 L434.0 323.5 L435.5 323.9 L437.0 324.2 L438.5 324.6 L440.0 325.0 L441.5 325.4 L443.0 325.8 L444.5 326.2 L446.0 326.6 L447.5 327.1 L449.0 327.5 L450.5 327.9 L452.0 328.4 L453.5 328.8 L455.0 329.3 L456.5 329.7 L458.0 330.2 L459.5 330.6 L460.0 330.8" stroke="#8c564b" stroke-width="3.1" fill="none" stroke-linejoin="round" stroke-dasharray="19.20 4.80 3.00 4.80"/>
<circle cx="72.5" cy="316.1" r="3.3" fill="#9a6256" stroke="#8c564b" stroke-width="1"/>
<circle cx="104.5" cy="250.0" r="3.3" fill="#9a6256" stroke="#8c564b" stroke-width="1"/>
<circle cx="137.0" cy="200.0" r="3.3" fill="#9a6256" stroke="#8c564b" stroke-width="1"/>
<circle cx="169.0" cy="204.5" r="3.3" fill="#9a6256" stroke="#8c564b" stroke-width="1"/>
<circle cx="201.0" cy="237.5" r="3.3" fill="#9a6256" stroke="#8c564b" stroke-width="1"/>
<circle cx="233.0" cy="268.0" r="3.3" fill="#9a6256" stroke="#8c564b" stroke-width="1"/>
<circle cx="265.0" cy="291.0" r="3.3" fill="#9a6256" stroke="#8c564b" stroke-width="1"/>
<circle cx="297.5" cy="300.5" r="3.3" fill="#9a6256" stroke="#8c564b" stroke-width="1"/>
<circle cx="330.0" cy="302.8" r="3.3" fill="#9a6256" stroke="#8c564b" stroke-width="1"/>
<circle cx="363.8" cy="307.8" r="3.3" fill="#9a6256" stroke="#8c564b" stroke-width="1"/>
<circle cx="400.0" cy="312.5" r="3.3" fill="#9a6256" stroke="#8c564b" stroke-width="1"/>
<circle cx="425.0" cy="321.2" r="3.3" fill="#9a6256" stroke="#8c564b" stroke-width="1"/>
<circle cx="460.0" cy="330.8" r="3.3" fill="#9a6256" stroke="#8c564b" stroke-width="1"/>
<path d="M72.5 315.1 L74.0 314.6 L75.5 313.5 L77.0 311.9 L78.5 310.1 L80.0 308.1 L81.5 305.4 L83.0 301.7 L84.5 297.7 L86.0 293.7 L87.5 290.2 L89.0 286.8 L90.5 283.4 L92.0 280.0 L93.5 276.5 L95.0 273.0 L96.5 269.3 L98.0 265.5 L99.5 261.6 L101.0 257.7 L102.5 253.8 L104.0 250.1 L105.5 246.5 L107.0 243.0 L108.5 239.6 L110.0 236.4 L111.5 233.4 L113.0 230.8 L114.5 228.4 L116.0 226.2 L117.5 224.0 L119.0 221.9 L120.5 219.8 L122.0 217.6 L123.5 215.4 L125.0 213.3 L126.5 211.3 L128.0 209.5 L129.5 207.7 L131.0 206.0 L132.5 204.3 L134.0 202.7 L135.5 201.2 L137.0 199.9 L138.5 198.8 L140.0 197.9 L141.5 197.0 L143.0 196.3 L144.5 195.7 L146.0 195.5 L147.5 195.5 L149.0 195.6 L150.5 195.7 L152.0 195.8 L153.5 195.9 L155.0 196.1 L156.5 196.3 L158.0 196.5 L159.5 196.9 L161.0 197.7 L162.5 198.6 L164.0 199.7 L165.5 200.7 L167.0 201.6 L168.5 202.6 L170.0 203.6 L171.5 204.7 L173.0 205.9 L174.5 207.5 L176.0 209.2 L177.5 211.0 L179.0 212.8 L180.5 214.6 L182.0 216.2 L183.5 217.9 L185.0 219.6 L186.5 221.3 L188.0 222.9 L189.5 224.5 L191.0 226.0 L192.5 227.5 L194.0 229.0 L195.5 230.5 L197.0 231.9 L198.5 233.3 L200.0 234.7 L201.5 236.2 L203.0 237.6 L204.5 239.0 L206.0 240.5 L207.5 242.0 L209.0 243.5 L210.5 245.0 L212.0 246.5 L213.5 248.0 L215.0 249.5 L216.5 251.0 L218.0 252.5 L219.5 254.0 L221.0 255.5 L222.5 257.0 L224.0 258.5 L225.5 260.0 L227.0 261.5 L228.5 263.0 L230.0 264.5 L231.5 266.0 L233.0 267.4 L234.5 268.9 L236.0 270.3 L237.5 271.7 L239.0 273.1 L240.5 274.4 L242.0 275.7 L243.5 277.0 L245.0 278.4 L246.5 279.6 L248.0 280.9 L249.5 282.1 L251.0 283.3 L252.5 284.4 L254.0 285.4 L255.5 286.3 L257.0 287.2 L258.5 288.0 L260.0 288.8 L261.5 289.6 L263.0 290.3 L264.5 291.0 L266.0 291.7 L267.5 292.4 L269.0 293.0 L270.5 293.7 L272.0 294.3 L273.5 294.9 L275.0 295.5 L276.5 296.2 L278.0 296.8 L279.5 297.4 L281.0 297.9 L282.5 298.5 L284.0 299.0 L285.5 299.4 L287.0 299.9 L288.5 300.2 L290.0 300.6 L291.5 300.9 L293.0 301.3 L294.5 301.6 L296.0 301.9 L297.5 302.2 L299.0 302.4 L300.5 302.7 L302.0 302.9 L303.5 303.1 L305.0 303.4 L306.5 303.6 L308.0 303.8 L309.5 303.9 L311.0 304.1 L312.5 304.3 L314.0 304.4 L315.5 304.6 L317.0 304.7 L318.5 304.9 L320.0 305.0 L321.5 305.2 L323.0 305.3 L324.5 305.5 L326.0 305.6 L327.5 305.8 L329.0 305.9 L330.5 306.1 L332.0 306.2 L333.5 306.3 L335.0 306.4 L336.5 306.5 L338.0 306.6 L339.5 306.7 L341.0 306.7 L342.5 306.8 L344.0 306.9 L345.5 306.9 L347.0 307.0 L348.5 307.1 L350.0 307.1 L351.5 307.2 L353.0 307.2 L354.5 307.3 L356.0 307.3 L357.5 307.4 L359.0 307.4 L360.5 307.5 L362.0 307.5 L363.5 307.5 L365.0 307.6 L366.5 307.6 L368.0 307.7 L369.5 307.7 L371.0 307.8 L372.5 307.8 L374.0 307.9 L375.5 307.9 L377.0 307.9 L378.5 308.0 L380.0 308.0 L381.5 308.0 L383.0 308.0 L384.5 308.1 L386.0 308.1 L387.5 308.1 L389.0 308.2 L390.5 308.2 L392.0 308.2 L393.5 308.3 L395.0 308.3 L396.5 308.4 L398.0 308.4 L399.5 308.5 L401.0 308.5 L402.5 308.6 L404.0 308.7 L405.5 308.8 L407.0 309.1 L408.5 309.5 L410.0 310.1 L411.5 310.8 L413.0 311.5 L414.5 312.3 L416.0 313.1 L417.5 313.9 L419.0 314.6 L420.5 315.2 L422.0 315.8 L423.5 316.3 L425.0 316.8 L426.5 317.4 L428.0 317.9 L429.5 318.5 L431.0 319.2 L432.5 319.9 L434.0 320.7 L435.5 321.5 L437.0 322.3 L438.5 322.9 L440.0 323.4 L441.5 323.9 L443.0 324.4 L444.5 324.9 L446.0 325.3 L447.5 325.7 L449.0 326.1 L450.5 326.4 L452.0 326.8 L453.5 327.1 L455.0 327.5 L456.5 327.9 L458.0 328.2 L459.5 328.5 L461.0 328.9 L462.5 329.2 L464.0 329.5 L465.5 329.8 L467.0 330.1 L468.5 330.4 L470.0 330.7 L471.5 330.9 L472.0 331.0" stroke="#e377c2" stroke-width="3.1" fill="none" stroke-linejoin="round" stroke-dasharray="11.10 4.80"/>
<circle cx="72.5" cy="315.1" r="3.3" fill="#ea8fcf" stroke="#e377c2" stroke-width="1"/>
<circle cx="105.5" cy="246.5" r="3.3" fill="#ea8fcf" stroke="#e377c2" stroke-width="1"/>
<circle cx="139.0" cy="198.5" r="3.3" fill="#ea8fcf" stroke="#e377c2" stroke-width="1"/>
<circle cx="172.5" cy="205.5" r="3.3" fill="#ea8fcf" stroke="#e377c2" stroke-width="1"/>
<circle cx="206.0" cy="240.5" r="3.3" fill="#ea8fcf" stroke="#e377c2" stroke-width="1"/>
<circle cx="239.5" cy="273.5" r="3.3" fill="#ea8fcf" stroke="#e377c2" stroke-width="1"/>
<circle cx="272.5" cy="294.5" r="3.3" fill="#ea8fcf" stroke="#e377c2" stroke-width="1"/>
<circle cx="306.0" cy="303.5" r="3.3" fill="#ea8fcf" stroke="#e377c2" stroke-width="1"/>
<circle cx="336.2" cy="306.5" r="3.3" fill="#ea8fcf" stroke="#e377c2" stroke-width="1"/>
<circle cx="370.0" cy="307.8" r="3.3" fill="#ea8fcf" stroke="#e377c2" stroke-width="1"/>
<circle cx="405.0" cy="308.8" r="3.3" fill="#ea8fcf" stroke="#e377c2" stroke-width="1"/>
<circle cx="438.8" cy="323.0" r="3.3" fill="#ea8fcf" stroke="#e377c2" stroke-width="1"/>
<circle cx="472.0" cy="331.0" r="3.3" fill="#ea8fcf" stroke="#e377c2" stroke-width="1"/>
<path d="M72.5 315.8 L74.0 315.3 L75.5 314.3 L77.0 312.8 L78.5 311.0 L80.0 309.1 L81.5 306.4 L83.0 302.8 L84.5 298.7 L86.0 294.7 L87.5 291.2 L89.0 287.8 L90.5 284.5 L92.0 281.1 L93.5 277.6 L95.0 274.0 L96.5 270.1 L98.0 266.1 L99.5 261.9 L101.0 257.7 L102.5 253.7 L104.0 250.0 L105.5 246.5 L107.0 243.1 L108.5 239.8 L110.0 236.7 L111.5 233.9 L113.0 231.3 L114.5 228.9 L116.0 226.7 L117.5 224.5 L119.0 222.4 L120.5 220.3 L122.0 218.1 L123.5 216.0 L125.0 213.9 L126.5 211.9 L128.0 210.0 L129.5 208.1 L131.0 206.2 L132.5 204.3 L134.0 202.5 L135.5 200.9 L137.0 199.6 L138.5 198.7 L140.0 197.9 L141.5 197.2 L143.0 196.6 L144.5 196.2 L146.0 196.0 L147.5 196.0 L149.0 196.1 L150.5 196.2 L152.0 196.3 L153.5 196.4 L155.0 196.6 L156.5 196.8 L158.0 197.0 L159.5 197.5 L161.0 198.3 L162.5 199.4 L164.0 200.5 L165.5 201.7 L167.0 202.6 L168.5 203.6 L170.0 204.5 L171.5 205.6 L173.0 206.9 L174.5 208.5 L176.0 210.2 L177.5 212.0 L179.0 213.9 L180.5 215.6 L182.0 217.2 L183.5 218.9 L185.0 220.6 L186.5 222.2 L188.0 223.9 L189.5 225.5 L191.0 227.0 L192.5 228.6 L194.0 230.1 L195.5 231.6 L197.0 233.1 L198.5 234.6 L200.0 236.1 L201.5 237.5 L203.0 239.0 L204.5 240.5 L206.0 241.9 L207.5 243.4 L209.0 244.8 L210.5 246.3 L212.0 247.7 L213.5 249.1 L215.0 250.5 L216.5 252.0 L218.0 253.4 L219.5 254.8 L221.0 256.3 L222.5 257.8 L224.0 259.2 L225.5 260.8 L227.0 262.3 L228.5 263.9 L230.0 265.4 L231.5 267.0 L233.0 268.5 L234.5 270.0 L236.0 271.4 L237.5 272.8 L239.0 274.1 L240.5 275.4 L242.0 276.7 L243.5 278.0 L245.0 279.2 L246.5 280.5 L248.0 281.7 L249.5 282.8 L251.0 283.9 L252.5 284.9 L254.0 285.9 L255.5 286.8 L257.0 287.6 L258.5 288.4 L260.0 289.2 L261.5 289.9 L263.0 290.6 L264.5 291.3 L266.0 292.0 L267.5 292.6 L269.0 293.3 L270.5 293.9 L272.0 294.5 L273.5 295.2 L275.0 295.8 L276.5 296.4 L278.0 297.0 L279.5 297.6 L281.0 298.2 L282.5 298.7 L284.0 299.2 L285.5 299.7 L287.0 300.1 L288.5 300.5 L290.0 300.9 L291.5 301.2 L293.0 301.5 L294.5 301.8 L296.0 302.1 L297.5 302.4 L299.0 302.6 L300.5 302.9 L302.0 303.2 L303.5 303.5 L305.0 303.7 L306.5 304.0 L308.0 304.3 L309.5 304.6 L311.0 304.9 L312.5 305.1 L314.0 305.4 L315.5 305.7 L317.0 305.9 L318.5 306.2 L320.0 306.5 L321.5 306.8 L323.0 307.1 L324.5 307.4 L326.0 307.7 L327.5 307.9 L329.0 308.2 L330.5 308.5 L332.0 308.8 L333.5 309.1 L335.0 309.3 L336.5 309.5 L338.0 309.8 L339.5 310.0 L341.0 310.2 L342.5 310.4 L344.0 310.7 L345.5 310.9 L347.0 311.1 L348.5 311.3 L350.0 311.5 L351.5 311.7 L353.0 311.9 L354.5 312.1 L356.0 312.3 L357.5 312.5 L359.0 312.6 L360.5 312.8 L362.0 312.9 L363.5 313.1 L365.0 313.2 L366.5 313.3 L368.0 313.4 L369.5 313.5 L371.0 313.6 L372.5 313.7 L374.0 313.8 L375.5 313.9 L377.0 313.9 L378.5 314.0 L380.0 314.1 L381.5 314.1 L383.0 314.2 L384.5 314.2 L386.0 314.3 L387.5 314.3 L389.0 314.4 L390.5 314.5 L392.0 314.5 L393.5 314.6 L395.0 314.6 L396.5 314.7 L398.0 314.8 L399.5 314.9 L401.0 315.0 L402.5 315.1 L404.0 315.2 L405.5 315.3 L407.0 315.5 L408.5 315.6 L410.0 315.8 L411.5 316.0 L413.0 316.1 L414.5 316.3 L416.0 316.5 L417.5 316.7 L419.0 316.9 L420.5 317.1 L422.0 317.3 L423.5 317.5 L425.0 317.7 L426.5 317.9 L428.0 318.1 L429.5 318.3 L431.0 318.6 L432.5 318.8 L434.0 319.0 L435.5 319.3 L437.0 319.5 L438.5 319.7 L440.0 319.9 L441.5 320.2 L443.0 320.4 L444.5 320.7 L446.0 320.9 L447.5 321.2 L449.0 321.6 L450.5 322.1 L452.0 322.7 L453.5 323.2 L455.0 323.8 L456.5 324.2 L458.0 324.7 L459.5 325.2 L461.0 325.7 L462.5 326.2 L464.0 326.9 L465.5 327.8 L467.0 328.7 L468.5 329.6 L468.8 329.8" stroke="#858585" stroke-width="3.1" fill="none" stroke-linejoin="round" stroke-dasharray="3.00 4.95"/>
<circle cx="72.5" cy="315.8" r="3.3" fill="#a0a0a0" stroke="#858585" stroke-width="1"/>
<circle cx="105.0" cy="247.7" r="3.3" fill="#a0a0a0" stroke="#858585" stroke-width="1"/>
<circle cx="138.0" cy="199.0" r="3.3" fill="#a0a0a0" stroke="#858585" stroke-width="1"/>
<circle cx="172.0" cy="206.0" r="3.3" fill="#a0a0a0" stroke="#858585" stroke-width="1"/>
<circle cx="203.8" cy="239.8" r="3.3" fill="#a0a0a0" stroke="#858585" stroke-width="1"/>
<circle cx="237.5" cy="272.8" r="3.3" fill="#a0a0a0" stroke="#858585" stroke-width="1"/>
<circle cx="270.8" cy="294.0" r="3.3" fill="#a0a0a0" stroke="#858585" stroke-width="1"/>
<circle cx="303.8" cy="303.5" r="3.3" fill="#a0a0a0" stroke="#858585" stroke-width="1"/>
<circle cx="336.2" cy="309.5" r="3.3" fill="#a0a0a0" stroke="#858585" stroke-width="1"/>
<circle cx="368.8" cy="313.5" r="3.3" fill="#a0a0a0" stroke="#858585" stroke-width="1"/>
<circle cx="401.2" cy="315.0" r="3.3" fill="#a0a0a0" stroke="#858585" stroke-width="1"/>
<circle cx="437.0" cy="319.5" r="3.3" fill="#a0a0a0" stroke="#858585" stroke-width="1"/>
<circle cx="468.8" cy="329.8" r="3.3" fill="#a0a0a0" stroke="#858585" stroke-width="1"/></g>
<g stroke="#000" stroke-width="1.9"><line x1="53.5" y1="331.75" x2="53.5" y2="325.75"/><line x1="53.5" y1="166.8" x2="53.5" y2="160.8"/><line x1="143.1" y1="331.75" x2="143.1" y2="325.75"/><line x1="143.1" y1="166.8" x2="143.1" y2="160.8"/><line x1="232.6" y1="331.75" x2="232.6" y2="325.75"/><line x1="232.6" y1="166.8" x2="232.6" y2="160.8"/><line x1="322.2" y1="331.75" x2="322.2" y2="325.75"/><line x1="322.2" y1="166.8" x2="322.2" y2="160.8"/><line x1="411.7" y1="331.75" x2="411.7" y2="325.75"/><line x1="411.7" y1="166.8" x2="411.7" y2="160.8"/><line x1="501.3" y1="331.75" x2="501.3" y2="325.75"/><line x1="501.3" y1="166.8" x2="501.3" y2="160.8"/><line x1="51.85" y1="72.5" x2="57.85" y2="72.5"/><line x1="51.85" y1="237.4" x2="57.85" y2="237.4"/></g>
<g stroke="#000" stroke-width="2.0" fill="none" stroke-linecap="square"><rect x="51.85" y="1.75" width="452.95" height="330.0"/><line x1="51.85" y1="166.8" x2="504.8" y2="166.8"/></g>
<g font-family="DejaVu Sans, Liberation Sans, sans-serif" fill="#000" stroke="#000" stroke-width="0.3"><text x="53.5" y="355.4" text-anchor="middle" font-size="24.0">0.0</text>
<text x="143.1" y="355.4" text-anchor="middle" font-size="24.0">0.2</text>
<text x="232.6" y="355.4" text-anchor="middle" font-size="24.0">0.4</text>
<text x="322.2" y="355.4" text-anchor="middle" font-size="24.0">0.6</text>
<text x="411.7" y="355.4" text-anchor="middle" font-size="24.0">0.8</text>
<text x="501.3" y="355.4" text-anchor="middle" font-size="24.0">1.0</text>
<text x="48.4" y="175.7" text-anchor="end" font-size="24.0">0</text>
<text x="48.4" y="340.6" text-anchor="end" font-size="24.0">0</text>
<text x="48.4" y="81.4" text-anchor="end" font-size="24.0">2</text>
<text x="48.4" y="246.3" text-anchor="end" font-size="24.0">2</text>
<text x="57.8" y="34.7" font-size="25.0">(a)</text>
<text x="57.8" y="199.5" font-size="25.0">(b)</text>
<text y="34.0" font-size="25.0"><tspan x="210.2" font-style="italic">ε</tspan><tspan x="223.2" font-style="italic" font-size="17.50" dy="4.5">H</tspan><tspan x="241.3" dy="-4.5">=</tspan><tspan x="265.3">3.0</tspan></text>
<text y="198.8" font-size="25.0"><tspan x="210.2" font-style="italic">ε</tspan><tspan x="223.2" font-style="italic" font-size="17.50" dy="4.5">H</tspan><tspan x="241.3" dy="-4.5">=</tspan><tspan x="266.2">7.5</tspan></text>
<text y="383.6" font-size="27.6"><tspan x="235.2" font-style="italic">h</tspan><tspan font-style="italic" font-size="19.32" dy="4.8">R</tspan><tspan dy="-4.8" dx="0.8">(</tspan><tspan font-style="italic">N</tspan><tspan font-style="italic" font-size="19.32" dy="4.8">e</tspan><tspan dy="-4.8" dx="2.5">)</tspan></text>
<text transform="translate(22 118.4) rotate(-90)" font-size="27.6"><tspan font-style="italic">P</tspan><tspan dx="0.8">(</tspan><tspan font-style="italic">h</tspan><tspan font-style="italic" font-size="19.32" dy="4.8">R</tspan><tspan dy="-4.8" dx="0.7">)</tspan></text>
<text transform="translate(22 284.29999999999995) rotate(-90)" font-size="27.6"><tspan font-style="italic">P</tspan><tspan dx="0.8">(</tspan><tspan font-style="italic">h</tspan><tspan font-style="italic" font-size="19.32" dy="4.8">R</tspan><tspan dy="-4.8" dx="0.7">)</tspan></text></g>
<g><line x1="337.7" y1="185.0" x2="366.3" y2="185.0" stroke="#1f77b4" stroke-width="3.1" stroke-linecap="square"/>
<text x="377.7" y="190.2" font-size="14.3" font-family="DejaVu Sans, Liberation Sans, sans-serif" stroke="#000" stroke-width="0.25">0.05</text>
<line x1="337.7" y1="205.9" x2="366.3" y2="205.9" stroke="#ff7f0e" stroke-width="3.1" stroke-dasharray="19.20 4.80 3.00 4.80"/>
<text x="377.7" y="211.1" font-size="14.3" font-family="DejaVu Sans, Liberation Sans, sans-serif" stroke="#000" stroke-width="0.25">0.10</text>
<line x1="337.7" y1="226.8" x2="366.3" y2="226.8" stroke="#2ca02c" stroke-width="3.1" stroke-dasharray="11.10 4.80"/>
<text x="377.7" y="232.0" font-size="14.3" font-family="DejaVu Sans, Liberation Sans, sans-serif" stroke="#000" stroke-width="0.25">0.20</text>
<line x1="337.7" y1="247.6" x2="366.3" y2="247.6" stroke="#d62728" stroke-width="3.1" stroke-dasharray="3.00 4.95"/>
<text x="377.7" y="252.79999999999998" font-size="14.3" font-family="DejaVu Sans, Liberation Sans, sans-serif" stroke="#000" stroke-width="0.25">0.30</text>
<line x1="420.7" y1="185.0" x2="449.3" y2="185.0" stroke="#9467bd" stroke-width="3.1" stroke-linecap="square"/>
<circle cx="435.0" cy="185.0" r="3.3" fill="#9d74c4" stroke="#9467bd" stroke-width="1"/>
<text x="460.8" y="190.2" font-size="14.3" font-family="DejaVu Sans, Liberation Sans, sans-serif" stroke="#000" stroke-width="0.25">0.50</text>
<line x1="420.7" y1="205.9" x2="449.3" y2="205.9" stroke="#8c564b" stroke-width="3.1" stroke-dasharray="19.20 4.80 3.00 4.80"/>
<circle cx="435.0" cy="205.9" r="3.3" fill="#9a6256" stroke="#8c564b" stroke-width="1"/>
<text x="460.8" y="211.1" font-size="14.3" font-family="DejaVu Sans, Liberation Sans, sans-serif" stroke="#000" stroke-width="0.25">0.75</text>
<line x1="420.7" y1="226.8" x2="449.3" y2="226.8" stroke="#e377c2" stroke-width="3.1" stroke-dasharray="11.10 4.80"/>
<circle cx="435.0" cy="226.8" r="3.3" fill="#ea8fcf" stroke="#e377c2" stroke-width="1"/>
<text x="460.8" y="232.0" font-size="14.3" font-family="DejaVu Sans, Liberation Sans, sans-serif" stroke="#000" stroke-width="0.25">0.88</text>
<line x1="420.7" y1="247.6" x2="449.3" y2="247.6" stroke="#858585" stroke-width="3.1" stroke-dasharray="3.00 4.95"/>
<circle cx="435.0" cy="247.6" r="3.3" fill="#a0a0a0" stroke="#858585" stroke-width="1"/>
<text x="460.8" y="252.79999999999998" font-size="14.3" font-family="DejaVu Sans, Liberation Sans, sans-serif" stroke="#000" stroke-width="0.25">0.95</text></g>
</svg>
</body></html>
